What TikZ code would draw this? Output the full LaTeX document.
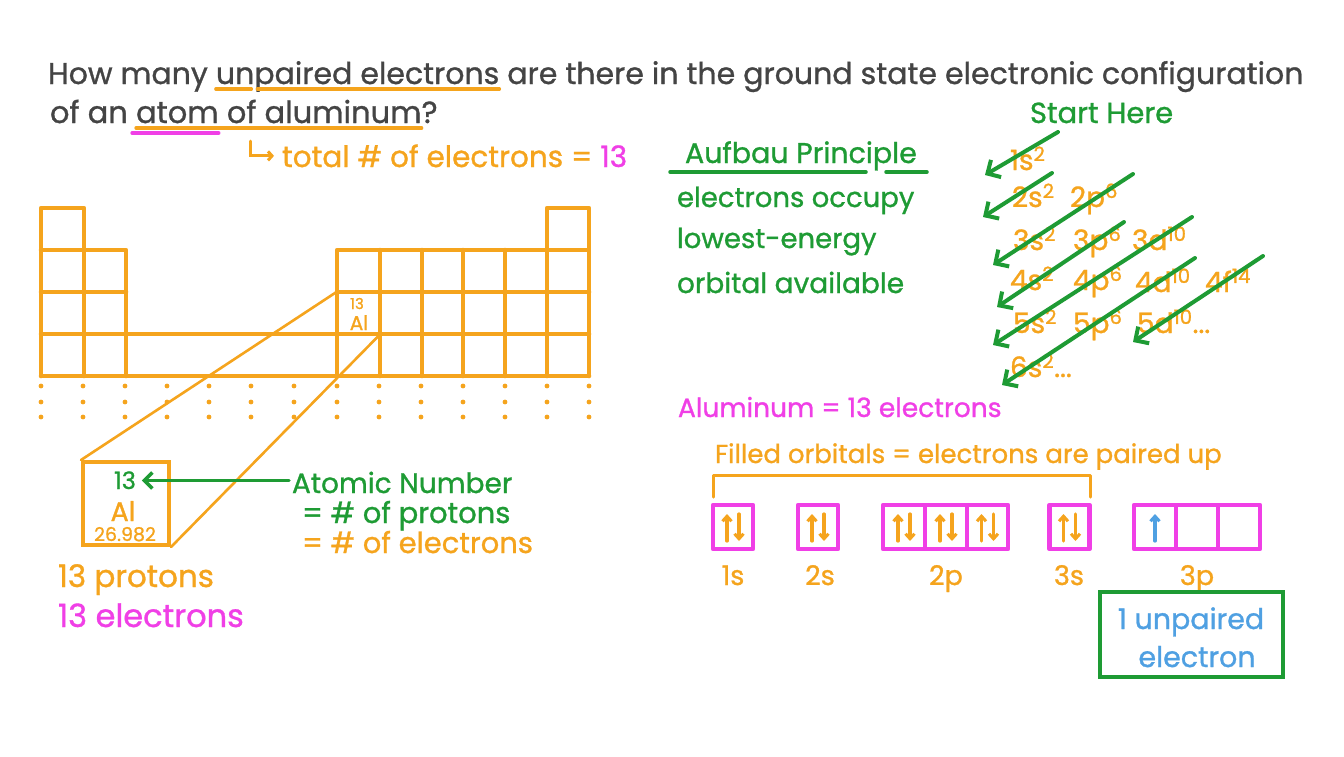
\documentclass[tikz,border=0pt]{standalone}
\usepackage{fontspec}
\setmainfont{Poppins}[FakeBold=1]
\usetikzlibrary{arrows.meta}
\definecolor{ink}{HTML}{444444}
\definecolor{org}{HTML}{F5A41D}
\definecolor{grn}{HTML}{1E9B34}
\definecolor{mag}{HTML}{F03FE6}
\definecolor{blu}{HTML}{4FA0E2}
\newcommand\fs[1]{\fontsize{#1}{#1}\selectfont}
\newcommand\gap{\kern0.27em}
\newcommand\pairarrows[1]{%
  \draw[orbarr] ([xshift=-6pt,yshift=-14pt]#1.center) -- ([xshift=-6pt,yshift=13pt]#1.center);
  \draw[orbarr] ([xshift=6pt,yshift=13pt]#1.center) -- ([xshift=6pt,yshift=-14pt]#1.center);}
\begin{document}
\begin{tikzpicture}[x=1pt,y=-1pt,
  txt/.style={inner sep=0pt, outer sep=0pt, anchor=base west},
  ctxt/.style={inner sep=0pt, outer sep=0pt, anchor=base},
  ptab/.style={draw=org, line width=4.5pt, line cap=round, line join=round},
  uline/.style={line width=3.5pt, line cap=round},
  slant/.style={draw=org, line width=2.6pt, line cap=round},
  diag/.style={draw=grn, line width=4pt, line cap=round, -{Straight Barb[length=10pt,width=20pt,line width=4pt]}},
  garr/.style={draw=grn, line width=3.5pt, line cap=round, -{Straight Barb[length=8pt,width=16pt,line width=3.5pt]}},
  orbarr/.style={draw=org, line width=3.2pt, line cap=round, -{Straight Barb[length=5pt,width=9pt,line width=3pt]}},
  obox/.style={draw=mag, line width=4.5pt, minimum height=44pt, inner sep=0pt, line join=round},
  lbl/.style={ctxt, text=org, font=\fs{27}},
  orb/.style={txt, text=org, font=\fs{28}},
]
\useasboundingbox (0,0) rectangle (1344,756);
\fill[white] (0,0) rectangle (1344,756);

% ---------- question ----------
\begin{scope}[every node/.style={txt, text=ink, font=\fs{30}}]
\node (q1) at (48,84) {How many\gap};
\node (q1un) at (q1.base east) {un};
\node (q1pe) at (q1un.base east) {paired electrons};
\node (q1r) at (q1pe.base east) {\ are there in the ground state electronic configuration};
\end{scope}
\draw[uline, org] ([yshift=-5pt]q1un.base west) -- ([yshift=-5pt,xshift=-3pt]q1un.base east);
\draw[uline, org] ([yshift=-5pt,xshift=3pt]q1pe.base west) -- ([yshift=-5pt]q1pe.base east);

\begin{scope}[every node/.style={txt, text=ink, font=\fs{30.5}}]
\node (q2a) at (50,123) {of an\gap};
\node (q2atom) at (q2a.base east) {atom};
\node (q2of) at (q2atom.base east) {\ of aluminum};
\node (q2q) at (q2of.base east) {?};
\end{scope}
\draw[uline, org] ([yshift=-5pt]q2atom.base west) -- ([yshift=-5pt]q2of.base east);
\draw[uline, mag] ([yshift=-10pt,xshift=-4pt]q2atom.base west) -- ([yshift=-10pt]q2atom.base east);

% total # of electrons
\node[txt, text=org, font=\fs{29.5}] (tot) at (282,167) {total \# of electrons =\gap};
\node[txt, text=mag, font=\fs{29.5}] (tot13) at (tot.base east) {13};
\coordinate (hk) at (250,141);
\draw[org, line width=3pt, line cap=round, -{Straight Barb[length=4pt,width=9pt,line width=3pt]}] (hk) |- ([xshift=-8pt]tot.west);

% ---------- periodic table ----------
\draw[ptab] (41,376) -- (41,208) -- (84,208) -- (84,376);
\draw[ptab] (41,250) -- (126,250) -- (126,376);
\draw[ptab] (41,292) -- (126,292);
\draw[ptab] (41,334) -- (589,334);
\draw[ptab] (41,376) -- (589,376);
\draw[ptab] (337,376) -- (337,250) -- (589,250) -- (589,376);
\draw[ptab] (547,250) -- (547,208) -- (589,208) -- (589,250);
\draw[ptab] (337,292) -- (589,292);
\foreach \x in {380,422,463,505,547} \draw[ptab] (\x,250) -- (\x,376);
\foreach \x in {41,83,125,167,209,251,294,337,379,421,463,505,547,589}
  \foreach \y in {386,402,417} \fill[org] (\x,\y) circle (2.4pt);

\node[inner sep=0pt, minimum width=43pt, minimum height=42pt] (alcell) at (358.5,313) {};
\node[ctxt, text=org, font=\fs{15}] (alnum) at (357,309) {13};
\node[ctxt, text=org, font=\fs{20}] (alsym) at (359,330) {Al};

% ---------- big Al box ----------
\node[draw=org, line width=4pt, minimum width=86pt, minimum height=83pt, inner sep=0pt] (bigbox) at (126,503.5) {};
\node[ctxt, text=grn, font=\fs{24}] (num13) at (125,489) {13};
\node[ctxt, text=org, font=\fs{27}] (bigal) at (123,521) {Al};
\node[ctxt, text=org, font=\fs{19}] (mass) at (125,541) {26.982};
\draw[slant] (alcell.north west) -- (bigbox.north west);
\draw[slant] (alcell.south east) -- (bigbox.south east);

\node[txt, text=grn, font=\fs{28}] (atomic) at (292,493) {Atomic Number};
\node[txt, text=grn, font=\fs{29}] (eqp) at (302,523) {= \# of protons};
\node[txt, text=org, font=\fs{29}] (eqe) at (302,553) {= \# of electrons};
\draw[garr] ([xshift=-3pt,yshift=2pt]atomic.west) -- ([xshift=6pt,yshift=2pt]atomic.west -| num13.east);

\node[txt, text=org, font=\fs{31}] (prot) at (58,587) {13 protons};
\node[txt, text=mag, font=\fs{32}] (elec) at (58,627) {13 electrons};

% ---------- Aufbau principle ----------
\node[txt, text=grn, font=\fs{28.5}] (auf) at (685,163) {Aufbau Principle};
\draw[uline, grn] (670,172) -- (866,172);
\draw[uline, grn] (886,172) -- (927,172);
\node[txt, text=grn, font=\fs{27.5}] (auf1) at (677,207) {electrons occupy};
\node[txt, text=grn, font=\fs{27.5}] (auf2) at (677,248) {lowest-energy};
\node[txt, text=grn, font=\fs{28}] (auf3) at (677,293) {orbital available};

\node[txt, text=grn, font=\fs{29}] (start) at (1030,123) {Start Here};

\node[orb] (s1) at (1010,170) {1s\textsuperscript{2}};
\node[orb] (s2) at (1012,207) {2s\textsuperscript{2}};
\node[orb] (p2) at (1070,207) {2p\textsuperscript{6}};
\node[orb] (s3) at (1013,250) {3s\textsuperscript{2}};
\node[orb] (p3) at (1073,250) {3p\textsuperscript{6}};
\node[orb] (d3) at (1132,250) {3d\textsuperscript{10}};
\node[orb] (s4) at (1010,290) {4s\textsuperscript{2}};
\node[orb] (p4) at (1073,290) {4p\textsuperscript{6}};
\node[orb] (d4) at (1135,292) {4d\textsuperscript{10}};
\node[orb] (f4) at (1205,292) {4f\textsuperscript{14}};
\node[orb] (s5) at (1013,333) {5s\textsuperscript{2}};
\node[orb] (p5) at (1073,333) {5p\textsuperscript{6}};
\node[orb] (d5) at (1137,333) {5d\textsuperscript{10}...};
\node[orb] (s6) at (1010,377) {6s\textsuperscript{2}...};

\draw[diag] (1058,132) -- (985,175);
\draw[diag] (1052,173) -- (983,217);
\draw[diag] (1133,174) -- (993,265);
\draw[diag] (1124,222) -- (997,307);
\draw[diag] (1192,217) -- (993,345);
\draw[diag] (1195,258) -- (1002,385);
\draw[diag] (1263,256) -- (1133,342);

% ---------- orbital diagram ----------
\node[txt, text=mag, font=\fs{26.5}] (alum) at (678,417) {Aluminum = 13 electrons};
\node[txt, text=org, font=\fs{26}] (filled) at (715,463) {Filled orbitals = electrons are paired up};
\draw[org, line width=3pt, line cap=round, line join=round] (713,497) -- (713,475) -- (1090,475) -- (1090,497);

\node[obox, minimum width=40pt] (o1s) at (733,527) {};
\node[obox, minimum width=40pt] (o2s) at (818,527) {};
\node[obox, minimum width=42pt] (o2pa) at (904,527) {};
\node[obox, minimum width=42pt] (o2pb) at (946,527) {};
\node[obox, minimum width=41pt] (o2pc) at (987.5,527) {};
\node[obox, minimum width=40pt] (o3s) at (1069.5,527) {};
\node[obox, minimum width=42pt] (o3pa) at (1155,527) {};
\node[obox, minimum width=42pt] (o3pb) at (1197,527) {};
\node[obox, minimum width=42pt] (o3pc) at (1239,527) {};
\pairarrows{o1s}
\pairarrows{o2s}
\pairarrows{o2pa}
\pairarrows{o2pb}
\pairarrows{o2pc}
\pairarrows{o3s}
\draw[orbarr, draw=blu] ([yshift=-14pt]o3pa.center) -- ([yshift=13pt]o3pa.center);

\node[lbl] (l1s) at (733,585) {1s};
\node[lbl] (l2s) at (820,585) {2s};
\node[lbl] (l2p) at (946,585) {2p};
\node[lbl] (l3s) at (1069,585) {3s};
\node[lbl] (l3p) at (1197,585) {3p};

\node[draw=grn, line width=3.5pt, minimum width=183pt, minimum height=85pt, inner sep=0pt] (unp) at (1191.5,634.5) {};
\node[ctxt, text=blu, font=\fs{28.5}] (unp1) at (1191,629) {1 unpaired};
\node[ctxt, text=blu, font=\fs{28.5}] (unp2) at (1197,667) {electron};
\end{tikzpicture}
\end{document}
